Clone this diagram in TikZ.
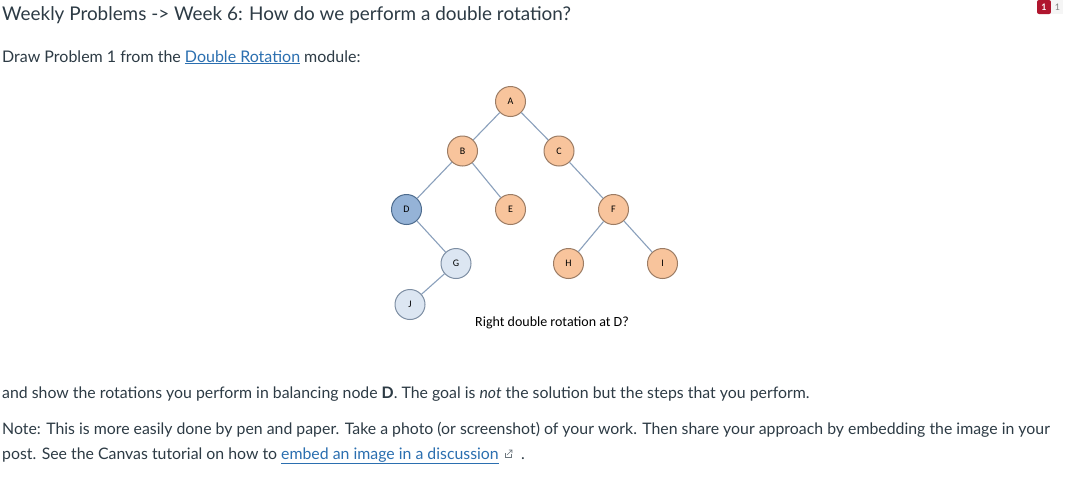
\documentclass[tikz,border=0pt]{standalone}
\usepackage{fontspec}
\setmainfont{Lato}
\newfontfamily\calfont{Carlito}
\definecolor{txt}{HTML}{2D3B45}
\definecolor{lnk}{HTML}{2B6FB0}
\definecolor{org}{HTML}{F8C49C}
\definecolor{orgb}{HTML}{9C7C64}
\definecolor{dblue}{HTML}{95B3D7}
\definecolor{dblueb}{HTML}{4E6C8E}
\definecolor{lblue}{HTML}{DCE6F2}
\definecolor{lblueb}{HTML}{7D8EA3}
\definecolor{edgec}{HTML}{8AA0BC}
\definecolor{badge}{HTML}{B0162E}
\newcommand{\lk}[1]{\textcolor{lnk}{\underline{#1}}}
\tikzset{
  tn/.style={circle, minimum size=30pt, inner sep=0pt, line width=1pt,
    font=\calfont\fontsize{10}{10}\selectfont, text=black},
  onode/.style={tn, fill=org, draw=orgb},
  dnode/.style={tn, fill=dblue, draw=dblueb},
  lnode/.style={tn, fill=lblue, draw=lblueb},
  edge/.style={draw=edgec, line width=1.1pt},
  txtline/.style={anchor=base west, inner sep=0pt, text=txt}
}
\begin{document}
\begin{tikzpicture}[x=1pt,y=-1pt]
\useasboundingbox (0,0) rectangle (1067,493);
\fill[white] (0,0) rectangle (1067,493);

\node[txtline, font=\fontsize{18.9}{19}\selectfont] (title) at (2,20) {Weekly Problems -> Week 6: How do we perform a double rotation?};
\node[txtline, font=\fontsize{16}{16}\selectfont] (draw) at (2,62) {Draw Problem 1 from the \lk{Double Rotation} module:};

% badge
\node[fill=badge, rounded corners=2pt, minimum width=14pt, minimum height=14pt, inner sep=0pt, text=white, font=\bfseries\fontsize{9}{9}\selectfont] (b1) at (1044,7) {1};
\node[fill=gray!8, minimum width=12pt, minimum height=14pt, inner sep=0pt, text=gray, font=\fontsize{9}{9}\selectfont, anchor=west] (b2) at (b1.east) {1};

% tree
\node[onode] (A) at (510.5,101.5) {A};
\node[onode] (B) at (462.5,151) {B};
\node[onode] (C) at (559,151) {C};
\node[dnode] (D) at (406.5,209.5) {D};
\node[onode] (E) at (510.5,209.5) {E};
\node[onode] (F) at (613.5,209.5) {F};
\node[lnode] (G) at (456,263.5) {G};
\node[onode] (H) at (568.5,263.5) {H};
\node[onode] (I) at (662.5,263.5) {I};
\node[lnode] (J) at (410,304.5) {J};
\draw[edge] (A) -- (B);
\draw[edge] (A) -- (C);
\draw[edge] (B) -- (D);
\draw[edge] (B) -- (E);
\draw[edge] (C) -- (F);
\draw[edge] (D) -- (G);
\draw[edge] (G) -- (J);
\draw[edge] (F) -- (H);
\draw[edge] (F) -- (I);
\node[anchor=base west, inner sep=0pt, font=\calfont\fontsize{14}{14}\selectfont] (cap) at (475,326) {Right double rotation at D?};

\node[txtline, font=\fontsize{15.85}{16}\selectfont] (l1) at (2,398) {and show the rotations you perform in balancing node \textbf{D}. The goal is \textit{not} the solution but the steps that you perform.};
\node[txtline, font=\fontsize{15.85}{16}\selectfont] (l2) at (2,434) {Note: This is more easily done by pen and paper. Take a photo (or screenshot) of your work. Then share your approach by embedding the image in your};
\node[txtline, font=\fontsize{15.85}{16}\selectfont] (l3) at (2,459) {post. See the Canvas tutorial on how to \lk{embed an image in a discussion}};
\coordinate (ic) at ([xshift=9pt,yshift=5pt]l3.base east);
\draw[txt!70, line width=0.6pt] ([xshift=-3pt,yshift=1pt]ic) -- ([xshift=-3pt,yshift=-3pt]ic) -- ([xshift=3pt,yshift=-3pt]ic) -- ([xshift=3pt,yshift=0pt]ic);
\draw[txt!70, line width=0.6pt] ([xshift=-1pt,yshift=-1pt]ic) -- ([xshift=4pt,yshift=4pt]ic) ([xshift=1pt,yshift=4pt]ic) -- ([xshift=4pt,yshift=4pt]ic) -- ([xshift=4pt,yshift=1pt]ic);
\node[txtline, font=\fontsize{15.85}{16}\selectfont, anchor=base west] (dot) at ([xshift=22pt]l3.base east) {.};
\end{tikzpicture}
\end{document}
